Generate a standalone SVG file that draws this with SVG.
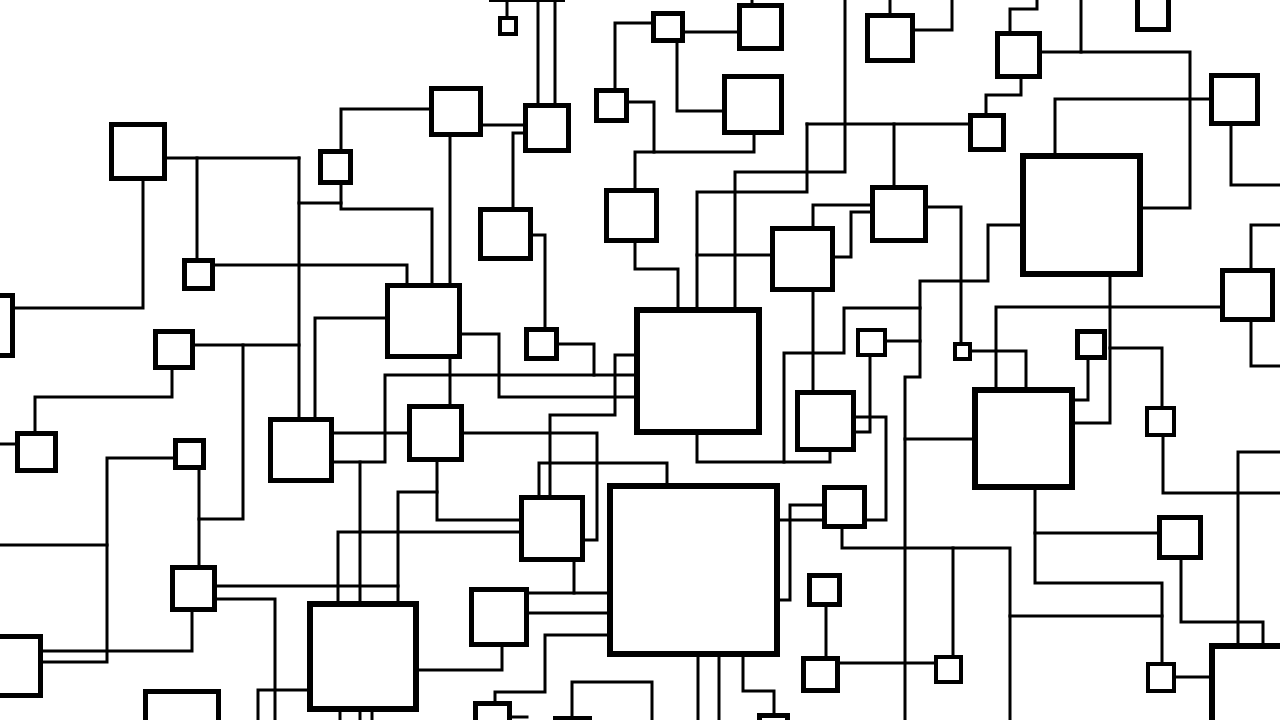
<svg xmlns="http://www.w3.org/2000/svg" width="1280" height="720" viewBox="0 0 1280 720">
<style>
.w{fill:none;stroke:#000;stroke-width:3;stroke-linecap:square;stroke-linejoin:miter}
.b{fill:#fff;stroke:#000;stroke-width:5}
.g{stroke-width:6}
.s{stroke-width:4}
</style>
<rect width="1280" height="720" fill="#fff"/>
<g id="connectors" class="w">
<polyline points="167,158 299,158"/>
<polyline points="197,158 197,258"/>
<polyline points="299,158 299,417"/>
<polyline points="143,181 143,308 15,308"/>
<polyline points="341,149 341,109 429,109"/>
<polyline points="299,203 341,203"/>
<polyline points="341,185 341,209 432,209 432,283"/>
<polyline points="483,125 523,125"/>
<polyline points="450,137 450,283"/>
<polyline points="523,133 513,133 513,207"/>
<polyline points="507,1 507,16"/>
<polyline points="538,0 538,103"/>
<polyline points="555,0 555,103"/>
<polyline points="651,23 615,23 615,88"/>
<polyline points="685,32 737,32"/>
<polyline points="677,43 677,111 722,111"/>
<polyline points="629,102 654,102 654,152"/>
<polyline points="754,135 754,152 635,152 635,188"/>
<polyline points="533,235 545,235 545,327"/>
<polyline points="845,0 845,172 735,172 735,307"/>
<polyline points="807,124 968,124"/>
<polyline points="807,124 807,192 697,192 697,307"/>
<polyline points="894,124 894,185"/>
<polyline points="752,0 752,3"/>
<polyline points="890,0 890,13"/>
<polyline points="915,30 952,30 952,0"/>
<polyline points="1010,31 1010,9 1037,9 1037,0"/>
<polyline points="1021,79 1021,95 986,95 986,113"/>
<polyline points="1042,52 1190,52 1190,208 1143,208"/>
<polyline points="1081,0 1081,52"/>
<polyline points="1055,153 1055,99 1209,99"/>
<polyline points="1231,126 1231,185 1280,185"/>
<polyline points="870,205 813,205 813,226"/>
<polyline points="870,212 851,212 851,257 835,257"/>
<polyline points="928,207 961,207 961,342"/>
<polyline points="1020,225 988,225 988,281 920,281 920,377 905,377 905,720"/>
<polyline points="1280,225 1251,225 1251,268"/>
<polyline points="1220,307 996,307 996,387"/>
<polyline points="1110,277 1110,423 1075,423"/>
<polyline points="1110,348 1162,348 1162,406"/>
<polyline points="1088,360 1088,400 1075,400"/>
<polyline points="1251,322 1251,366 1280,366"/>
<polyline points="972,351 1026,351 1026,387"/>
<polyline points="887,341 920,341"/>
<polyline points="784,462 784,353 844,353 844,308 920,308"/>
<polyline points="697,435 697,462 830,462 830,452"/>
<polyline points="813,292 813,390"/>
<polyline points="697,255 770,255"/>
<polyline points="635,243 635,269 678,269 678,307"/>
<polyline points="870,357 870,432 856,432"/>
<polyline points="856,417 886,417 886,520 867,520"/>
<polyline points="905,439 972,439"/>
<polyline points="1163,437 1163,493 1280,493"/>
<polyline points="1280,452 1238,452 1238,643"/>
<polyline points="1035,490 1035,583 1162,583 1162,662"/>
<polyline points="1035,533 1157,533"/>
<polyline points="1010,616 1162,616"/>
<polyline points="842,529 842,548 1010,548 1010,720"/>
<polyline points="953,548 953,655"/>
<polyline points="840,663 934,663"/>
<polyline points="1181,560 1181,622 1263,622 1263,643"/>
<polyline points="1176,677 1209,677"/>
<polyline points="780,520 822,520"/>
<polyline points="780,600 790,600 790,505 822,505"/>
<polyline points="826,607 826,656"/>
<polyline points="698,657 698,720"/>
<polyline points="719,657 719,720"/>
<polyline points="743,657 743,691 774,691 774,713"/>
<polyline points="572,720 572,682 652,682 652,720"/>
<polyline points="529,593 607,593"/>
<polyline points="574,562 574,593"/>
<polyline points="529,613 607,613"/>
<polyline points="607,635 545,635 545,692 495,692 495,701"/>
<polyline points="419,670 502,670 502,647"/>
<polyline points="512,717 527,717"/>
<polyline points="634,355 615,355 615,415 550,415 550,495"/>
<polyline points="539,495 539,463 667,463 667,483"/>
<polyline points="464,433 597,433 597,540 585,540"/>
<polyline points="437,462 437,520 519,520"/>
<polyline points="398,601 398,492 437,492"/>
<polyline points="338,601 338,532 519,532"/>
<polyline points="360,462 360,601"/>
<polyline points="334,462 385,462 385,375 634,375"/>
<polyline points="559,344 594,344 594,375"/>
<polyline points="462,334 499,334 499,397 634,397"/>
<polyline points="450,359 450,404"/>
<polyline points="334,433 407,433"/>
<polyline points="315,417 315,318 385,318"/>
<polyline points="215,265 407,265 407,283"/>
<polyline points="195,345 299,345"/>
<polyline points="243,345 243,519 199,519"/>
<polyline points="199,470 199,565"/>
<polyline points="172,370 172,397 35,397 35,431"/>
<polyline points="0,444 15,444"/>
<polyline points="173,458 107,458 107,662 43,662"/>
<polyline points="0,545 107,545"/>
<polyline points="43,651 192,651 192,612"/>
<polyline points="217,586 398,586"/>
<polyline points="217,599 275,599 275,720"/>
<polyline points="307,690 258,690 258,720"/>
<polyline points="340,712 340,720"/>
<polyline points="360,712 360,720"/>
<polyline points="372,712 372,720"/>
</g>
<g id="n1"><rect class="b" x="111.5" y="124.5" width="53" height="54"/></g>
<g id="n2"><rect class="b" x="320.5" y="151.5" width="30" height="31"/></g>
<g id="n3"><rect class="b" x="431.5" y="88.5" width="49" height="46"/></g>
<g id="n4"><rect class="b" x="525.5" y="105.5" width="43" height="45"/></g>
<g id="n5"><rect class="b s" x="500" y="18" width="16" height="16"/></g>
<g id="n6"><rect class="b" x="653.5" y="13.5" width="29" height="27"/></g>
<g id="n7"><rect class="b" x="739.5" y="5.5" width="42" height="43"/></g>
<g id="n8"><rect class="b" x="596.5" y="90.5" width="30" height="30"/></g>
<g id="n9"><rect class="b" x="724.5" y="76.5" width="57" height="56"/></g>
<g id="n10"><rect class="b" x="480.5" y="209.5" width="50" height="49"/></g>
<g id="n11"><rect class="b" x="606.5" y="190.5" width="50" height="50"/></g>
<g id="n12"><rect class="b" x="772.5" y="228.5" width="60" height="61"/></g>
<g id="n13"><rect class="b" x="867.5" y="15.5" width="45" height="45"/></g>
<g id="n14"><rect class="b" x="997.5" y="33.5" width="42" height="43"/></g>
<g id="n15"><rect class="b" x="1137.5" y="-7.5" width="31" height="37"/></g>
<g id="n16"><rect class="b" x="970.5" y="115.5" width="33" height="34"/></g>
<g id="n17"><rect class="b" x="1211.5" y="75.5" width="46" height="48"/></g>
<g id="n18"><rect class="b" x="872.5" y="187.5" width="53" height="53"/></g>
<g id="n19"><rect class="b g" x="1023" y="156" width="117" height="118"/></g>
<g id="n20"><rect class="b" x="1222.5" y="270.5" width="50" height="49"/></g>
<g id="n21"><rect class="b" x="-7.5" y="295.5" width="20" height="60"/></g>
<g id="n22"><rect class="b" x="184.5" y="260.5" width="28" height="28"/></g>
<g id="n23"><rect class="b" x="155.5" y="331.5" width="37" height="36"/></g>
<g id="n24"><rect class="b" x="17.5" y="433.5" width="38" height="37"/></g>
<g id="n25"><rect class="b" x="175.5" y="440.5" width="28" height="27"/></g>
<g id="n26"><rect class="b" x="270.5" y="419.5" width="61" height="61"/></g>
<g id="n27"><rect class="b" x="387.5" y="285.5" width="72" height="71"/></g>
<g id="n28"><rect class="b" x="409.5" y="406.5" width="52" height="53"/></g>
<g id="n29"><rect class="b" x="526.5" y="329.5" width="30" height="29"/></g>
<g id="n30"><rect class="b g" x="637" y="310" width="122" height="122"/></g>
<g id="n31"><rect class="b" x="797.5" y="392.5" width="56" height="57"/></g>
<g id="n32"><rect class="b s" x="858" y="330" width="27" height="25"/></g>
<g id="n33"><rect class="b s" x="955" y="344" width="15" height="15"/></g>
<g id="n34"><rect class="b" x="1077.5" y="331.5" width="27" height="26"/></g>
<g id="n35"><rect class="b g" x="975" y="390" width="97" height="97"/></g>
<g id="n36"><rect class="b s" x="1147" y="408" width="27" height="27"/></g>
<g id="n37"><rect class="b g" x="610" y="486" width="167" height="168"/></g>
<g id="n38"><rect class="b" x="521.5" y="497.5" width="61" height="62"/></g>
<g id="n39"><rect class="b" x="471.5" y="589.5" width="55" height="55"/></g>
<g id="n40"><rect class="b" x="824.5" y="487.5" width="40" height="39"/></g>
<g id="n41"><rect class="b" x="809.5" y="575.5" width="30" height="29"/></g>
<g id="n42"><rect class="b" x="803.5" y="658.5" width="34" height="32"/></g>
<g id="n43"><rect class="b" x="1159.5" y="517.5" width="41" height="40"/></g>
<g id="n44"><rect class="b s" x="936" y="657" width="25" height="25"/></g>
<g id="n45"><rect class="b s" x="1148" y="664" width="26" height="27"/></g>
<g id="n46"><rect class="b g" x="1212" y="646" width="75" height="81"/></g>
<g id="n47"><rect class="b" x="172.5" y="567.5" width="42" height="42"/></g>
<g id="n48"><rect class="b g" x="310" y="604" width="106" height="105"/></g>
<g id="n49"><rect class="b" x="-7.5" y="636.5" width="48" height="59"/></g>
<g id="n50"><rect class="b" x="145.5" y="691.5" width="73" height="36"/></g>
<g id="n51"><rect class="b" x="475.5" y="703.5" width="34" height="24"/></g>
<g id="n52"><rect class="b" x="759.5" y="715.5" width="28" height="22"/></g>
<g id="n53"><rect class="b" x="555.5" y="718.5" width="34" height="19"/></g>
<g id="n54"><rect class="b" x="491.5" y="-27.5" width="71" height="27"/></g>
</svg>
